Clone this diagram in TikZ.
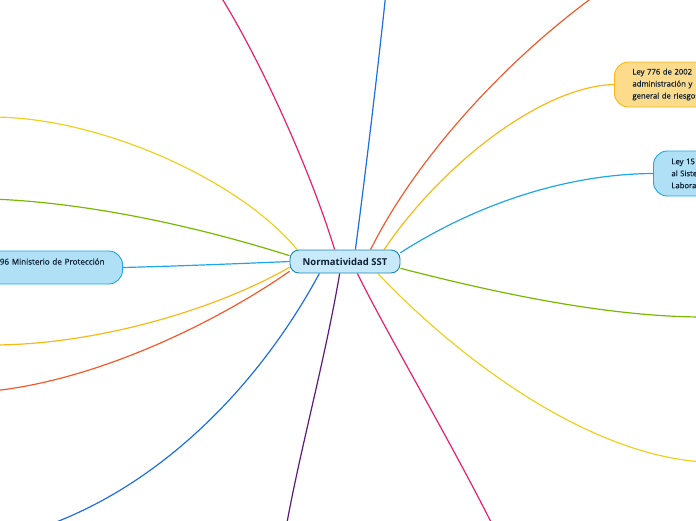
\documentclass[tikz,border=0pt]{standalone}
\usepackage{fontspec}
\setmainfont{Open Sans}
\newfontfamily\semib{Open Sans}[UprightFeatures={FakeBold=0.6}]
\usetikzlibrary{positioning,calc}
\pgfdeclarelayer{bg}
\pgfsetlayers{bg,main}
\definecolor{cpink}{HTML}{EE1D6E}
\definecolor{cblue}{HTML}{1C6FDE}
\definecolor{corange}{HTML}{F4592B}
\definecolor{camber}{HTML}{F9B816}
\definecolor{csky}{HTML}{1EA7E6}
\definecolor{cgreen}{HTML}{7AB800}
\definecolor{cyellow}{HTML}{F0D01E}
\definecolor{cpurple}{HTML}{5B1A7E}
\definecolor{ctext}{HTML}{0F2236}
\tikzset{
  branch/.style={line width=1.2pt},
  centerbox/.style={draw=csky!80!black, fill=csky!25, line width=0.9pt, rounded corners=9pt,
    minimum width=110pt, minimum height=23pt, text=ctext, font=\fontsize{9.5}{11}\selectfont\bfseries},
  skybox/.style={draw=csky, fill=csky!35, line width=0.9pt, rounded corners=14pt, text=ctext},
  amberbox/.style={draw=camber, fill=camber!50, line width=0.9pt, rounded corners=14pt, text=ctext}
}
\begin{document}
\begin{tikzpicture}[x=1pt,y=-1pt,font=\semib\fontsize{7.7}{12}\selectfont]
    \useasboundingbox (0,0) rectangle (696,520);
    \clip (0,0) rectangle (696,520);
    \node [centerbox] (sst) at (345,261.5) {Normatividad SST};
    \node [skybox, anchor=east, text width=190pt, minimum height=33pt, align=right, inner xsep=18pt,
      font=\semib\fontsize{8.1}{12}\selectfont] (res) at (123,267.5) {96 Ministerio de Protección\\\mbox{}};
    \node [amberbox, anchor=west, text width=120pt, minimum height=45pt, align=left, inner xsep=18pt] (ley776) at (614,84.5) {Ley 776 de 2002\\administración y\\general de riesgos};
    \node [skybox, anchor=west, text width=120pt, minimum height=45pt, align=left, inner xsep=18pt] (ley15) at (653,173.5) {Ley 15\\al Siste\\Labora};

    \coordinate (tpink) at (218,-8);
    \coordinate (tblue) at (386,-8);
    \coordinate (torange) at (600,-8);
    \coordinate (rgreen) at (704,317);
    \coordinate (ryellow) at (704,462);
    \coordinate (bpink) at (494,528);
    \coordinate (bpurple) at (286,528);
    \coordinate (bblue) at (40,528);
    \coordinate (lorange) at (-8,391);
    \coordinate (lyellow) at (-8,345);
    \coordinate (lgreen) at (-8,199);
    \coordinate (lamber) at (-8,117);

    \begin{pgfonlayer}{bg}    % connectors behind the boxes
        \draw [branch, cpink] (sst.131) .. controls (312,175) and (262,62) .. (tpink);
        \draw [branch, cblue] (sst.49) .. controls (366,170) and (380,50) .. (tblue);
        \draw [branch, corange] (sst.25) .. controls (415,160) and (505,60) .. (torange);
        \draw [branch, camber] (sst.17) .. controls (445,160) and (545,86) .. (ley776.west);
        \draw [branch, csky] (sst.9) .. controls (475,205) and (565,174) .. (ley15.west);
        \draw [branch, cgreen] (sst.353) .. controls (500,294) and (610,317) .. (rgreen);
        \draw [branch, cyellow] (sst.340) .. controls (455,355) and (585,455) .. (ryellow);
        \draw [branch, cpink] (sst.316) .. controls (385,330) and (450,440) .. (bpink);
        \draw [branch, cpurple] (sst.246) .. controls (325,360) and (300,450) .. (bpurple);
        \draw [branch, cblue] (sst.205) .. controls (262,380) and (165,485) .. (bblue);
        \draw [branch, corange] (sst.190) .. controls (220,320) and (100,380) .. (lorange);
        \draw [branch, camber] (sst.186) .. controls (215,310) and (95,345) .. (lyellow);
        \draw [branch, csky] (sst.180) .. controls (230,264) and (180,266) .. (res.east);
        \draw [branch, cgreen] (sst.174) .. controls (215,232) and (100,203) .. (lgreen);
        \draw [branch, cyellow] (sst.166) .. controls (240,180) and (100,117) .. (lamber);
    \end{pgfonlayer}
\end{tikzpicture}
\end{document}
